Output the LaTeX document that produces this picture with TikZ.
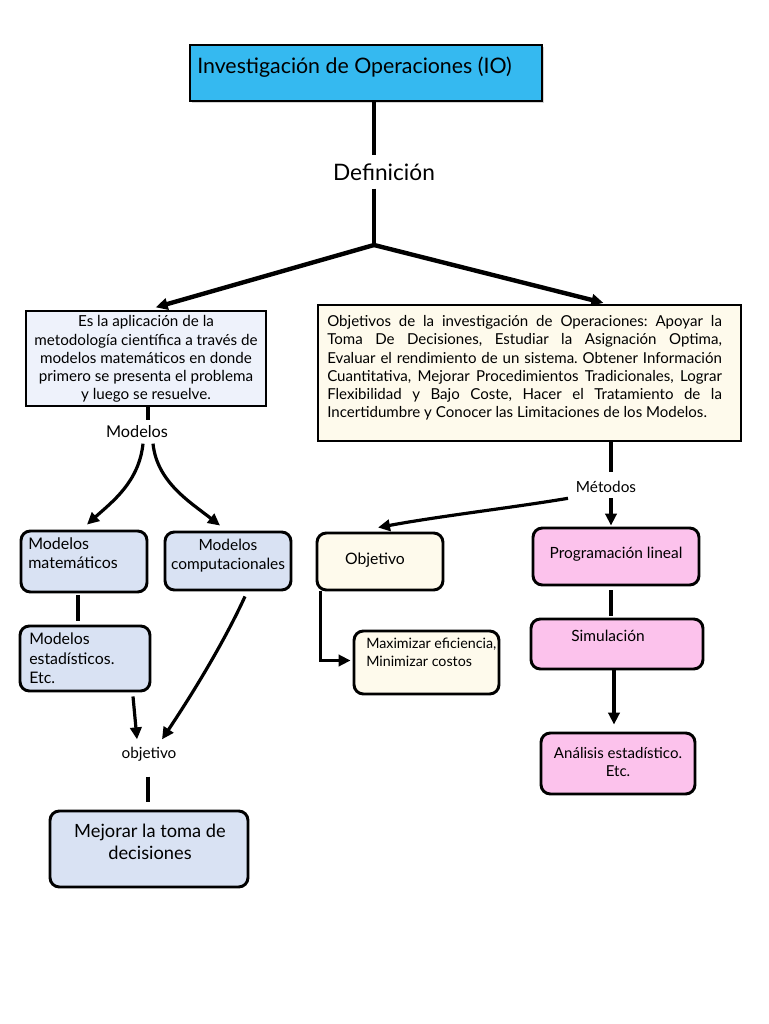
\documentclass[tikz,border=0pt]{standalone}
\usepackage{fontspec}
\setmainfont{Lato}
\usetikzlibrary{arrows.meta,shadows,calc}
\definecolor{titleblue}{HTML}{35B9F0}
\definecolor{lavender}{HTML}{EEF2FB}
\definecolor{paleblue}{HTML}{D9E2F3}
\definecolor{cream}{HTML}{FEFAEC}
\definecolor{pinkbox}{HTML}{FCC2EC}
\frenchspacing
\begin{document}
\begin{tikzpicture}[x=0.75pt,y=-0.75pt,
  sqbox/.style={draw=black, line width=2.2pt, rectangle, inner sep=0pt},
  rbox/.style={draw=black, line width=2.2pt, rounded corners=7pt, inner sep=0pt},
  conn/.style={line width=3.3pt},
  mconn/.style={line width=2.4pt},
  arr/.style={-{Triangle[length=9pt,width=8.5pt]}},
  txt/.style={inner sep=0pt, font=\fontsize{11.3pt}{13.6pt}\selectfont},
  lbl/.style={inner sep=0pt, font=\fontsize{11.6pt}{14pt}\selectfont},
]
\useasboundingbox (0,0) rectangle (768,1024);

% ---------- title
\node[sqbox, line width=1.6pt, fill=titleblue, minimum width=352*0.75pt, minimum height=56*0.75pt,
      drop shadow={shadow xshift=1.5pt, shadow yshift=-1.5pt, opacity=0.35}] (title) at (366,73) {};
\node[inner sep=0pt, anchor=west, font=\fontsize{16pt}{18pt}\selectfont] (titletxt) at (197,67) {Investigación de Operaciones (IO)};

\node[inner sep=6pt, font=\fontsize{17pt}{19pt}\selectfont] (def) at (384,172) {Definición};
\coordinate (split) at (374,245);
\draw[conn] (title.south -| split) -- (def.north -| split);
\draw[conn] (def.south -| split) -- (split);

% ---------- left box
\node[sqbox, fill=lavender, minimum width=240*0.75pt, minimum height=95*0.75pt] (lbox) at (146,358.5) {};
\node[txt, align=center, font=\fontsize{11.4pt}{13.6pt}\selectfont] (lboxtxt) at (146,359) {Es la aplicación de la\\metodología científica a través de\\modelos matemáticos en donde\\primero se presenta el problema\\y luego se resuelve.};

% ---------- right box
\node[sqbox, fill=cream, minimum width=423*0.75pt, minimum height=136*0.75pt] (rbox) at (529.5,373) {};
\node[txt, anchor=north west, text width=296pt, align=justify] (rboxtxt) at (327,315.5)
{Objetivos de la investigación de Operaciones: Apoyar la\linebreak Toma De Decisiones, Estudiar la Asignación Optima,\linebreak Evaluar el rendimiento de un sistema. Obtener Información\linebreak Cuantitativa, Mejorar Procedimientos Tradicionales, Lograr\linebreak Flexibilidad y Bajo Coste, Hacer el Tratamiento de la\linebreak Incertidumbre y Conocer las Limitaciones de los Modelos.};

\draw[conn, arr, shorten >=6pt] (split) -- ($(lbox.north)+(2,0)$);
\draw[conn, arr, shorten >=2pt] (split) -- ($(rbox.north)+(76.5,0)$);

% ---------- Modelos branch
\node[lbl, inner sep=4pt, font=\fontsize{12.2pt}{14pt}\selectfont] (modelos) at (137,432) {Modelos};
\draw[conn] ($(lbox.south)+(2,0)$) -- ($(modelos.north)+(11,0)$);

\node[rbox, fill=paleblue, minimum width=126*0.75pt, minimum height=61*0.75pt] (mm) at (84,561.5) {};
\node[lbl, anchor=north west, align=left, font=\fontsize{12pt}{14.3pt}\selectfont] (mmtxt) at (28,537.5) {Modelos\\matemáticos};
\node[rbox, fill=paleblue, minimum width=126*0.75pt, minimum height=58*0.75pt] (mc) at (228,561) {};
\node[lbl, align=center, font=\fontsize{11.6pt}{14pt}\selectfont] (mctxt) at (228,555.5) {Modelos\\computacionales};

\draw[mconn, arr] ($(modelos.south)+(6,0)$) .. controls (139,482) and (112,502) .. ($(mm.north)+(3,-5)$);
\draw[mconn, arr] ($(modelos.south)+(16,0)$) .. controls (157,482) and (190,502) .. ($(mc.north)+(-8,-5)$);

\node[rbox, fill=paleblue, minimum width=130*0.75pt, minimum height=65*0.75pt] (me) at (85,658.5) {};
\node[lbl, anchor=north west, align=left, font=\fontsize{11.9pt}{14.6pt}\selectfont] (metxt) at (29,633) {Modelos\\estadísticos.\\Etc.};
\draw[mconn] ($(mm.south)+(-6,2)$) -- ($(me.north)+(-7,-4)$);

\node[lbl, inner sep=4pt, font=\fontsize{11.5pt}{14pt}\selectfont] (objl) at (149,754) {objetivo};
\draw[mconn, arr] ($(me.south)+(48,4)$) -- ($(objl.north)+(-12,-2)$);
\draw[mconn, arr] ($(mc.south)+(17,5)$) .. controls (225,640) and (195,690) .. ($(objl.north)+(13,-2)$);

\node[rbox, fill=paleblue, minimum width=198*0.75pt, minimum height=76*0.75pt] (mej) at (149,849) {};
\node[lbl, align=center, font=\fontsize{13.7pt}{16.5pt}\selectfont] (mejtxt) at (150,842) {Mejorar la toma de\\decisiones};
\draw[conn] ($(objl.south)+(-1,10)$) -- ($(mej.north)+(-1,-8)$);

% ---------- Metodos branch
\node[lbl, inner sep=4pt, font=\fontsize{11.5pt}{14pt}\selectfont] (met) at (606,487) {Métodos};
\draw[conn] ($(rbox.south)+(81.5,0)$) -- ($(met.north)+(5,-4)$);

\node[rbox, fill=cream, minimum width=126*0.75pt, minimum height=57*0.75pt] (obj) at (380,561.5) {};
\node[lbl, font=\fontsize{11.8pt}{14pt}\selectfont] (objtxt) at (375,560) {Objetivo};
\node[rbox, fill=cream, minimum width=145*0.75pt, minimum height=63*0.75pt] (max) at (426.5,662.5) {};
\node[lbl, anchor=north west, align=left, font=\fontsize{10.7pt}{13.5pt}\selectfont] (maxtxt) at (366,638) {Maximizar eficiencia,\\Minimizar costos};

\node[rbox, fill=pinkbox, minimum width=166*0.75pt, minimum height=57*0.75pt] (prog) at (616,556.5) {};
\node[lbl] (progtxt) at (616,554) {Programación lineal};
\node[rbox, fill=pinkbox, minimum width=172*0.75pt, minimum height=50*0.75pt] (sim) at (617,644) {};
\node[lbl] (simtxt) at (608,636) {Simulación};
\node[rbox, fill=pinkbox, minimum width=154*0.75pt, minimum height=61*0.75pt] (ana) at (618,763.5) {};
\node[lbl, align=center, font=\fontsize{11.3pt}{13.5pt}\selectfont] (anatxt) at (618,762) {Análisis estadístico.\\Etc.};

\draw[mconn, arr] ($(met.south)+(-38,0)$) .. controls (510,508) and (440,516) .. ($(obj.north)+(-2,-4)$);
\draw[mconn, arr] ($(met.south)+(5,0)$) -- ($(prog.north)+(-5,-1)$);
\draw[mconn, arr] ($(obj.south west)+(5,0)$) |- ($(max.west)+(-2,-2)$);
\draw[conn] ($(prog.south)+(-5,4)$) -- ($(sim.north)+(-6,-2)$);
\draw[mconn, arr] ($(sim.south)+(-3,0)$) -- ($(ana.north)+(-4,-7)$);
\end{tikzpicture}
\end{document}
